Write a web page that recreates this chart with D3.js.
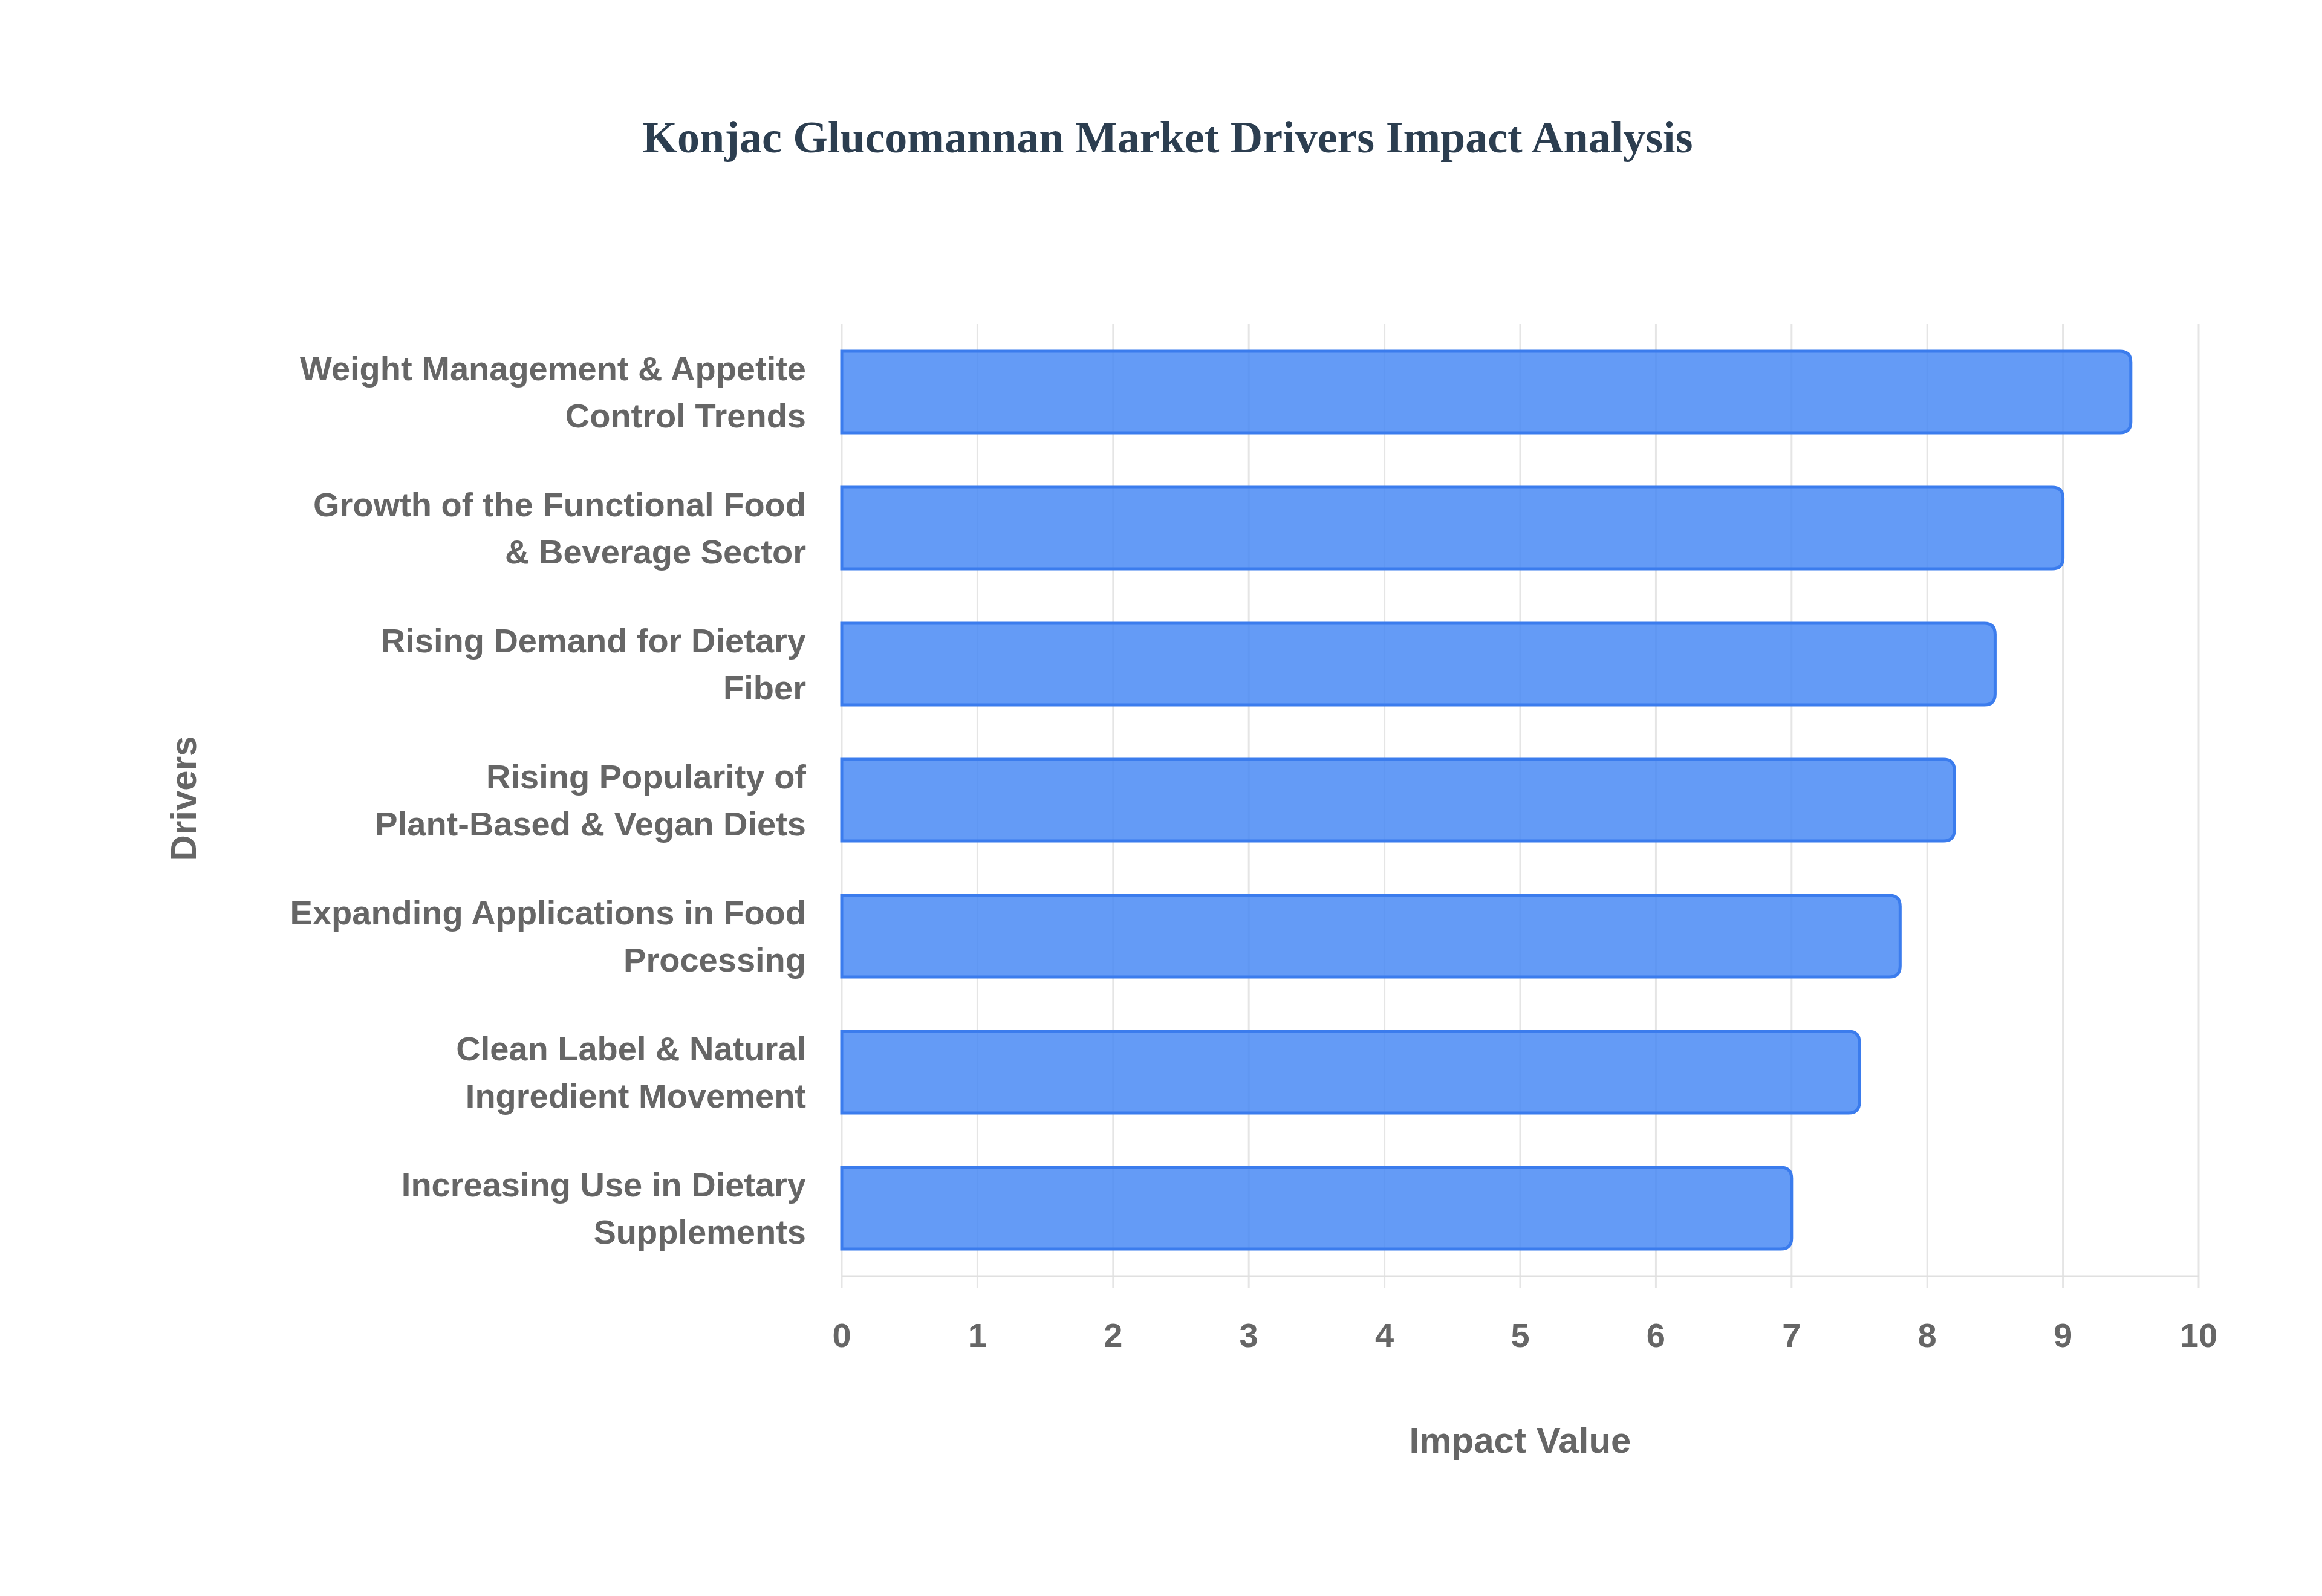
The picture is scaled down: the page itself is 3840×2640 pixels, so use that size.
<!DOCTYPE html>
<html><head><meta charset="utf-8">
<script src="https://cdn.jsdelivr.net/npm/d3@7"></script>
<style>body{margin:0;background:#fff}</style></head>
<body><svg id="c" width="3840" height="2640"></svg>
<script>
const categories = [
  ["Weight Management & Appetite","Control Trends"],
  ["Growth of the Functional Food","& Beverage Sector"],
  ["Rising Demand for Dietary","Fiber"],
  ["Rising Popularity of","Plant-Based & Vegan Diets"],
  ["Expanding Applications in Food","Processing"],
  ["Clean Label & Natural","Ingredient Movement"],
  ["Increasing Use in Dietary","Supplements"]
];
const values = [9.5, 9.0, 8.5, 8.2, 7.8, 7.5, 7.0];
const xTicks = [0,1,2,3,4,5,6,7,8,9,10];
const title = "Konjac Glucomannan Market Drivers Impact Analysis";

const svg = d3.select("#c");
const L=1392, R=3636, T=536, B=2111;
const x = d3.scaleLinear().domain([0,10]).range([L,R]);
const y = d3.scaleBand().domain(d3.range(categories.length)).range([T,B]).paddingInner(0.4).paddingOuter(0.2);
const font = "'Liberation Sans', Arial, sans-serif";

svg.append("g").selectAll("line").data(xTicks).join("line")
  .attr("x1",d=>x(d)).attr("x2",d=>x(d)).attr("y1",T).attr("y2",B+20)
  .attr("stroke","#e5e5e5").attr("stroke-width",3);
svg.append("line").attr("x1",L).attr("x2",R).attr("y1",B).attr("y2",B).attr("stroke","#e0e0e0").attr("stroke-width",3);

const r=18;
svg.append("g").selectAll("path").data(values).join("path")
  .attr("d",(d,i)=>{const x0=x(0),x1=x(d),y0=y(i),y1=y(i)+y.bandwidth();
    return `M${x0},${y0}H${x1-r}Q${x1},${y0} ${x1},${y0+r}V${y1-r}Q${x1},${y1} ${x1-r},${y1}H${x0}Z`;})
  .attr("fill","rgba(66,133,244,0.82)").attr("stroke","#3b7ced").attr("stroke-width",5);

svg.append("g").selectAll("text").data(xTicks).join("text")
  .attr("x",d=>x(d)).attr("y",2228).attr("text-anchor","middle")
  .attr("font-family",font).attr("font-weight","bold").attr("font-size",56).attr("fill","#666")
  .text(d=>d);

const lab = svg.append("g").selectAll("text").data(categories).join("text")
  .attr("text-anchor","end").attr("font-family",font).attr("font-weight","bold")
  .attr("font-size",56).attr("fill","#666");
lab.each(function(d,i){
  const cy=y(i)+y.bandwidth()/2;
  d3.select(this).selectAll("tspan").data(d).join("tspan")
    .attr("x",1333).attr("y",(t,j)=>cy-20+j*78).text(t=>t);
});

svg.append("text").attr("x",1931).attr("y",252).attr("text-anchor","middle")
  .attr("font-family","'Liberation Serif','Times New Roman',serif").attr("font-weight","bold")
  .attr("font-size",74).attr("fill","#2c3e50").text(title);
svg.append("text").attr("x",2514).attr("y",2403).attr("text-anchor","middle")
  .attr("font-family",font).attr("font-weight","bold").attr("font-size",60).attr("fill","#666").text("Impact Value");
svg.append("text").attr("transform","translate(324,1321) rotate(-90)").attr("text-anchor","middle")
  .attr("font-family",font).attr("font-weight","bold").attr("font-size",60).attr("fill","#666").text("Drivers");
</script></body></html>
